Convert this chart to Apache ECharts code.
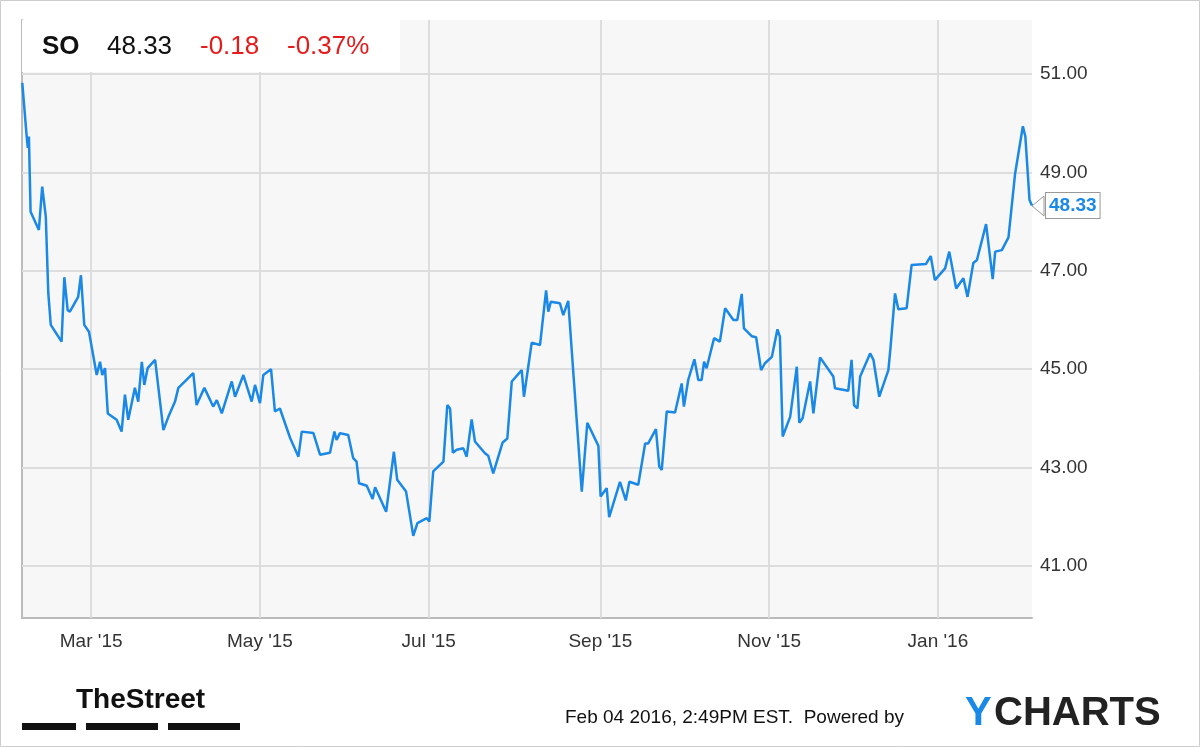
<!DOCTYPE html>
<html>
<head>
<meta charset="utf-8">
<script src="https://cdn.jsdelivr.net/npm/echarts@6/dist/echarts.min.js"></script>
<style>
  html, body { margin: 0; padding: 0; background: #fff; }
  #chart { width: 1200px; height: 747px; }
</style>
</head>
<body>
<div id="chart"></div>
<script>
// days since Feb 04 2015, and closing price
var days = [0.1,1.7,2.1,2.5,3.1,6.1,7.3,8.6,9.5,10.4,14.3,15.3,16.5,17.3,20.3,21.3,22.5,24.2,27.0,28.2,29.0,30.0,31.0,34.2,36.0,37.2,38.4,40.8,42.0,43.3,44.2,45.4,48.1,51.1,52.9,55.3,56.5,58.9,61.9,63.1,65.9,69.1,70.4,72.2,75.8,77.0,80.0,83.0,84.2,86.0,87.2,90.0,91.4,93.2,96.9,99.9,101.1,105.3,107.7,111.3,112.9,113.7,114.9,117.9,119.7,120.9,121.8,124.6,126.7,127.6,131.6,134.4,135.6,138.8,141.4,142.9,146.3,147.2,148.6,152.3,153.7,154.7,155.7,157.1,159.5,160.7,162.5,163.7,167.3,168.5,170.3,173.7,175.4,177.0,180.6,181.4,184.2,187.2,189.4,190.2,191.1,194.4,195.6,197.4,202.3,204.3,208.3,209.1,211.3,212.2,216.1,218.2,219.5,222.7,225.2,226.3,229.1,230.3,231.2,233.0,236.0,238.4,239.2,240.8,243.0,244.4,245.6,246.5,247.4,250.1,252.2,254.1,257.1,258.5,260.1,260.9,263.7,265.3,267.1,268.5,271.0,273.0,273.9,274.9,277.6,280.0,280.9,282.1,284.8,286.0,288.4,293.2,293.8,298.6,299.8,300.7,301.9,302.9,306.5,307.7,309.8,313.1,313.9,315.5,316.7,319.7,321.5,326.7,328.4,329.9,333.6,335.1,337.6,340.2,341.7,343.8,345.1,348.4,350.8,351.7,354.1,356.5,358.9,361.7,362.6,364.1,365.0];
var prices = [50.82,49.73,49.5,49.73,48.2,47.83,48.71,48.1,46.55,45.9,45.56,46.87,46.2,46.17,46.47,46.91,45.9,45.76,44.88,45.15,44.88,45.02,44.1,43.97,43.73,44.48,43.97,44.62,44.34,45.15,44.68,45.02,45.19,43.76,44.03,44.34,44.62,44.75,44.92,44.27,44.62,44.24,44.37,44.1,44.75,44.44,44.88,44.34,44.68,44.31,44.88,45.0,44.14,44.2,43.6,43.22,43.73,43.70,43.26,43.30,43.73,43.56,43.70,43.66,43.19,43.12,42.68,42.63,42.36,42.60,42.10,43.32,42.75,42.51,41.61,41.87,41.97,41.90,42.92,43.12,44.27,44.20,43.30,43.36,43.39,43.22,43.98,43.53,43.29,43.24,42.88,43.51,43.59,44.75,44.98,44.44,45.54,45.49,46.60,46.17,46.37,46.34,46.10,46.39,42.51,43.91,43.44,42.41,42.58,41.99,42.71,42.33,42.71,42.65,43.49,43.49,43.78,43.02,42.95,44.14,44.12,44.71,44.24,44.79,45.20,44.78,44.78,45.15,45.02,45.63,45.56,46.24,46.0,46.0,46.53,45.83,45.67,45.65,44.98,45.12,45.25,45.81,45.66,43.63,44.03,45.05,43.91,44.0,44.75,44.10,45.24,44.85,44.61,44.56,45.19,44.27,44.20,44.85,45.32,45.19,44.44,44.98,45.46,46.54,46.22,46.24,47.12,47.14,47.30,46.81,47.05,47.39,46.64,46.85,46.47,47.16,47.22,47.95,46.83,47.39,47.42,47.68,48.98,49.94,49.73,48.44,48.33];
var yTicks = [41, 43, 45, 47, 49, 51];
// month starts as days since Feb 04 2015
var monthTicks = [25, 86, 147, 209, 270, 331];
var monthLabels = ["Mar '15", "May '15", "Jul '15", "Sep '15", "Nov '15", "Jan '16"];

var seriesData = days.map(function (d, i) { return [d, prices[i]]; });

var gridLines = yTicks.map(function (v) { return { yAxis: v }; })
  .concat(monthTicks.map(function (t) { return { xAxis: t }; }));

var chart = echarts.init(document.getElementById('chart'));
chart.setOption({
  animation: false,
  backgroundColor: '#fff',
  grid: { left: 22, right: 168, top: 20, bottom: 129, show: true, backgroundColor: '#f7f7f7', borderWidth: 0 },
  xAxis: {
    type: 'value',
    min: 0,
    max: 365,
    axisLine: { show: true, lineStyle: { color: '#bbb', width: 2 } },
    axisTick: { show: false },
    splitLine: { show: false },
    axisLabel: {
      customValues: monthTicks,
      formatter: function (v) { var i = monthTicks.indexOf(v); return i >= 0 ? monthLabels[i] : ''; },
      color: '#333', fontSize: 19, fontFamily: 'Arial, Liberation Sans', margin: 14
    }
  },
  yAxis: {
    type: 'value',
    position: 'right',
    min: 39.94,
    max: 52.1,
    axisLine: { show: true, lineStyle: { color: '#bbb', width: 2 } },
    axisTick: { show: false },
    splitLine: { show: false },
    axisLabel: {
      customValues: yTicks,
      formatter: function (v) { return v.toFixed(2); },
      color: '#333', fontSize: 19, fontFamily: 'Arial, Liberation Sans', margin: 8
    }
  },
  series: [{
    type: 'line',
    data: seriesData,
    showSymbol: false,
    lineStyle: { color: '#1a88e6', width: 2.5 },
    z: 5,
    endLabel: {
      show: true,
      formatter: '48.33',
      color: '#1a88e6',
      fontWeight: 'bold',
      fontSize: 19,
      fontFamily: 'Arial, Liberation Sans',
      backgroundColor: '#fff',
      borderColor: '#999',
      borderWidth: 1,
      padding: [4, 3, 2, 3],
      distance: 14
    },
    markLine: {
      silent: true,
      symbol: 'none',
      label: { show: false },
      lineStyle: { color: '#ddd', width: 2, type: 'solid' },
      data: gridLines,
      z: 1
    }
  }],
  graphic: [
    { type: 'rect', shape: { x: 22, y: 20, width: 378, height: 52 }, style: { fill: '#fff' }, z: 10 },
    { type: 'text', left: 42, top: 34, z: 11, style: { text: 'SO', fontSize: 26, fontWeight: 'bold', fill: '#111', fontFamily: 'Arial, Liberation Sans' } },
    { type: 'text', left: 107, top: 34, z: 11, style: { text: '48.33', fontSize: 26, fill: '#111', fontFamily: 'Arial, Liberation Sans' } },
    { type: 'text', left: 200, top: 34, z: 11, style: { text: '-0.18', fontSize: 26, fill: '#e51a1a', fontFamily: 'Arial, Liberation Sans' } },
    { type: 'text', left: 287, top: 34, z: 11, style: { text: '-0.37%', fontSize: 26, fill: '#e51a1a', fontFamily: 'Arial, Liberation Sans' } },
    { type: 'polygon', shape: { points: [[1032, 206], [1044, 196], [1044, 216]] }, style: { fill: '#fff', stroke: '#999', lineWidth: 1 }, z: 9 },
    { type: 'text', left: 76, top: 686, style: { text: 'TheStreet', fontSize: 28, fontWeight: 'bold', fill: '#111', fontFamily: 'Liberation Sans Narrow, Arial' } },
    { type: 'rect', shape: { x: 22, y: 723, width: 54, height: 7 }, style: { fill: '#111' } },
    { type: 'rect', shape: { x: 86, y: 723, width: 72, height: 7 }, style: { fill: '#111' } },
    { type: 'rect', shape: { x: 168, y: 723, width: 72, height: 7 }, style: { fill: '#111' } },
    { type: 'text', left: 565, top: 708, style: { text: 'Feb 04 2016, 2:49PM EST.  Powered by', fontSize: 19, fill: '#111', fontFamily: 'Arial, Liberation Sans' } },
    { type: 'text', left: 965, top: 694, style: { text: 'Y', fontSize: 40, fontWeight: 'bold', fill: '#1a88e6', fontFamily: 'Arial, Liberation Sans' } },
    { type: 'text', left: 994, top: 694, style: { text: 'CHARTS', fontSize: 40, fontWeight: 'bold', fill: '#222', fontFamily: 'Arial, Liberation Sans' } },
    { type: 'rect', shape: { x: 0.5, y: 0.5, width: 1199, height: 746 }, style: { fill: 'none', stroke: '#ccc', lineWidth: 1 } }
  ]
});
</script>
</body>
</html>
